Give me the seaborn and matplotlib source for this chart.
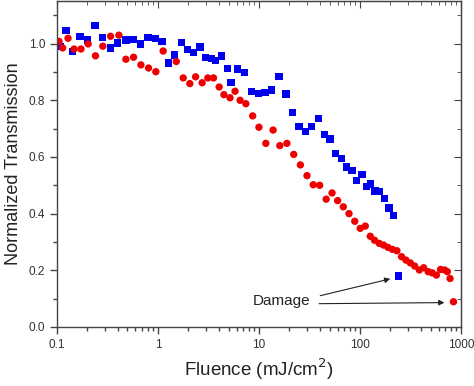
import numpy as np
import pandas as pd
import matplotlib
matplotlib.use('Agg')
import matplotlib.pyplot as plt
import matplotlib.ticker as mticker
import seaborn as sns

# Blue squares
blue_x = [0.107, 0.123, 0.143, 0.169, 0.201, 0.238, 0.283, 0.337, 0.401, 0.482,
          0.570, 0.673, 0.795, 0.940, 1.10, 1.28, 1.47, 1.70, 1.97, 2.24,
          2.61, 2.95, 3.37, 3.74, 4.28, 4.87, 5.27, 6.17, 7.20, 8.46,
          9.85, 11.5, 13.4, 15.8, 18.5, 21.6, 24.9, 29.0, 33.3, 38.6,
          44.3, 50.4, 57.5, 65.4, 74.0, 83.1, 93.0, 104.6, 116.7, 127.7,
          140.8, 155.0, 173.9, 193.5, 215.4]
blue_y = [0.989, 1.046, 0.973, 1.025, 1.013, 1.063, 1.022, 0.985, 1.002, 1.013,
          1.015, 0.999, 1.022, 1.018, 1.008, 0.932, 0.960, 1.005, 0.980, 0.968,
          0.988, 0.950, 0.947, 0.940, 0.957, 0.913, 0.864, 0.910, 0.898, 0.831,
          0.824, 0.827, 0.836, 0.884, 0.822, 0.758, 0.708, 0.691, 0.707, 0.735,
          0.679, 0.664, 0.612, 0.594, 0.564, 0.553, 0.516, 0.538, 0.496, 0.504,
          0.480, 0.477, 0.453, 0.420, 0.394]

# Red circles
red_x = [0.105, 0.114, 0.129, 0.148, 0.173, 0.204, 0.241, 0.285, 0.340, 0.411,
         0.482, 0.574, 0.679, 0.808, 0.954, 1.127, 1.52, 1.78, 2.07, 2.36,
         2.74, 3.12, 3.55, 4.04, 4.50, 5.17, 5.80, 6.50, 7.42, 8.67,
         10.0, 11.7, 13.8, 16.1, 18.9, 22.1, 25.7, 29.9, 34.5, 39.9,
         46.3, 52.9, 60.1, 68.4, 77.9, 88.8, 100.5, 112.9, 126.4, 139.3,
         155.0, 170.9, 188.8, 208.5, 232.0, 257.9, 285.0, 315.0, 347.5, 386.6,
         427.0, 473.0, 519.0, 571.0, 627.0, 688.0, 732.0, 779.0]
red_y = [1.008, 0.985, 1.019, 0.981, 0.981, 0.999, 0.957, 0.991, 1.026, 1.030,
         0.945, 0.952, 0.925, 0.914, 0.901, 0.974, 0.937, 0.879, 0.859, 0.883,
         0.862, 0.879, 0.879, 0.847, 0.820, 0.809, 0.832, 0.800, 0.788, 0.745,
         0.705, 0.648, 0.695, 0.640, 0.648, 0.609, 0.572, 0.534, 0.502, 0.500,
         0.451, 0.473, 0.446, 0.424, 0.400, 0.373, 0.348, 0.356, 0.320, 0.306,
         0.295, 0.289, 0.281, 0.274, 0.269, 0.248, 0.236, 0.226, 0.215, 0.201,
         0.209, 0.195, 0.191, 0.183, 0.203, 0.201, 0.195, 0.171]

# Damage points
damage_x = [239.6, 842.0]
damage_y = [0.180, 0.089]
damage_series = ['blue', 'red']

x_ticks = [0.1, 1, 10, 100, 1000]

df = pd.DataFrame({
    'fluence': blue_x + red_x + damage_x,
    'transmission': blue_y + red_y + damage_y,
    'series': ['blue'] * len(blue_x) + ['red'] * len(red_x) + damage_series,
})

sns.set_style('ticks')
plt.rcParams['font.family'] = ['Liberation Sans', 'DejaVu Sans']

fig = plt.figure(figsize=(4.74, 3.86), dpi=100)
ax = fig.add_axes([0.120, 0.153, 0.8526, 0.844])

sns.scatterplot(data=df, x='fluence', y='transmission', hue='series', style='series',
                palette={'blue': '#0000EE', 'red': '#EE0000'},
                markers={'blue': 's', 'red': 'o'},
                s=28, linewidth=0, legend=False, ax=ax)

ax.set_xscale('log')
ax.set_xlim(0.1, 1000)
ax.set_ylim(0, 1.15)
ax.set_xticks(x_ticks)
ax.xaxis.set_major_formatter(mticker.FuncFormatter(lambda v, p: f'{v:g}'))
ax.xaxis.set_minor_locator(mticker.LogLocator(base=10, subs=np.arange(2, 10)))
ax.xaxis.set_minor_formatter(mticker.NullFormatter())
ax.yaxis.set_major_locator(mticker.MultipleLocator(0.2))
ax.yaxis.set_minor_locator(mticker.MultipleLocator(0.1))
ax.yaxis.set_major_formatter(mticker.FormatStrFormatter('%.1f'))

spine_col = '#444444'
for s in ax.spines.values():
    s.set_visible(True)
    s.set_color(spine_col)
    s.set_linewidth(1.0)

ax.tick_params(which='major', direction='out', length=5, width=1, color=spine_col,
               labelsize=8.5, labelcolor='#333333')
ax.tick_params(which='minor', direction='out', length=3, width=1, color=spine_col)

top = ax.secondary_xaxis('top')
top.set_xticks(x_ticks)
top.xaxis.set_minor_locator(mticker.LogLocator(base=10, subs=np.arange(2, 10)))
top.tick_params(which='major', direction='in', length=5, color=spine_col, labeltop=False)
top.tick_params(which='minor', direction='in', length=3, color=spine_col)
top.xaxis.set_minor_formatter(mticker.NullFormatter())
top.spines['top'].set_color(spine_col)

right = ax.secondary_yaxis('right')
right.yaxis.set_major_locator(mticker.MultipleLocator(0.2))
right.yaxis.set_minor_locator(mticker.MultipleLocator(0.1))
right.tick_params(which='major', direction='in', length=5, color=spine_col, labelright=False)
right.tick_params(which='minor', direction='in', length=3, color=spine_col)
right.spines['right'].set_color(spine_col)

ax.set_xlabel('Fluence (mJ/cm$^2$)', fontsize=13.5, color='#222222', labelpad=4)
ax.set_ylabel('Normalized Transmission', fontsize=13, color='#222222', labelpad=5)

# damage annotation: text plus two arrows
ax.text(8.7, 0.093, 'Damage', fontsize=11, color='#222222', va='center', ha='left')
arrow = dict(arrowstyle='-|>', color='#222222', lw=0.8, mutation_scale=8)
ax.annotate('', xy=(212, 0.172), xytext=(38, 0.108), arrowprops=arrow)
ax.annotate('', xy=(730, 0.086), xytext=(37, 0.082), arrowprops=arrow)

fig.savefig('out.png', dpi=100)
